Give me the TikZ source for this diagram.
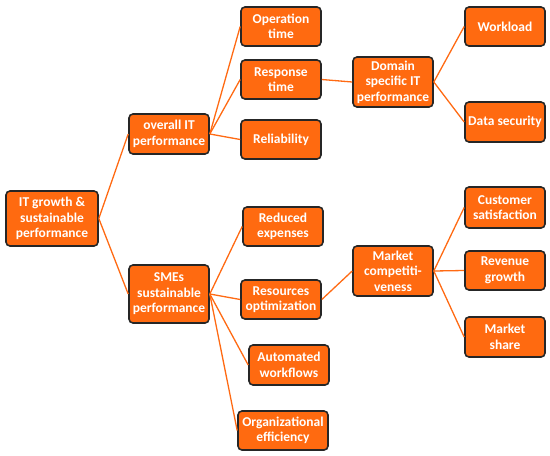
\documentclass[tikz,border=0pt]{standalone}
\usepackage{fontspec}
\setmainfont{Carlito}
\definecolor{orfill}{HTML}{FF6A10}
\definecolor{orline}{HTML}{FF6A13}
\begin{document}
\begin{tikzpicture}[x=1pt,y=-1pt,
  box/.style={draw=black!85, line width=1.6pt, fill=orfill, rounded corners=4pt,
    text=white, font=\fontsize{13.5}{15.5}\selectfont\bfseries, align=center,
    inner sep=0pt, minimum width=80pt, minimum height=39pt},
  conn/.style={draw=orline, line width=1.3pt}]
\useasboundingbox (0,0) rectangle (550,456);
\node[box, minimum width=92pt, minimum height=55pt] (root) at (52,218.5) {IT growth \&\\sustainable\\performance};
\node[box, minimum height=40pt] (overall) at (169,134) {overall IT\\performance};
\node[box] (op) at (281,26.5) {Operation\\time};
\node[box] (resp) at (281,79.5) {Response\\time};
\node[box] (rel) at (281,139.5) {Reliability};
\node[box, minimum height=50pt] (dom) at (393,82) {Domain\\specific IT\\performance};
\node[box] (work) at (505,26.5) {Workload};
\node[box, minimum height=40pt] (data) at (505,122) {Data security};
\node[box, minimum height=41pt] (cust) at (505,207.5) {Customer\\satisfaction};
\node[box, minimum height=58pt] (smes) at (169,294) {SMEs\\sustainable\\performance};
\node[box] (red) at (283,226.5) {Reduced\\expenses};
\node[box] (res) at (281,299.5) {Resources\\optimization};
\node[box, minimum height=40pt] (auto) at (289,365) {Automated\\workflows};
\node[box, minimum width=90pt] (org) at (283,430.5) {Organizational\\efficiency};
\node[box, minimum height=50pt] (mkt) at (393,271) {Market\\competiti-\\veness};
\node[box] (rev) at (505,270.5) {Revenue\\growth};
\node[box, minimum height=40pt] (share) at (505,337) {Market\\share};
\draw[conn] (root.east) -- (overall.west);
\draw[conn] (root.east) -- (smes.west);
\draw[conn] (overall.east) -- (op.west);
\draw[conn] (overall.east) -- (resp.west);
\draw[conn] (overall.east) -- (rel.west);
\draw[conn] (resp.east) -- (dom.west);
\draw[conn] (dom.east) -- (work.west);
\draw[conn] (dom.east) -- (data.west);
\draw[conn] (smes.east) -- (red.west);
\draw[conn] (smes.east) -- (res.west);
\draw[conn] (smes.east) -- (auto.west);
\draw[conn] (smes.east) -- (org.west);
\draw[conn] (res.east) -- (mkt.west);
\draw[conn] (mkt.east) -- (cust.west);
\draw[conn] (mkt.east) -- (rev.west);
\draw[conn] (mkt.east) -- (share.west);
\end{tikzpicture}
\end{document}
